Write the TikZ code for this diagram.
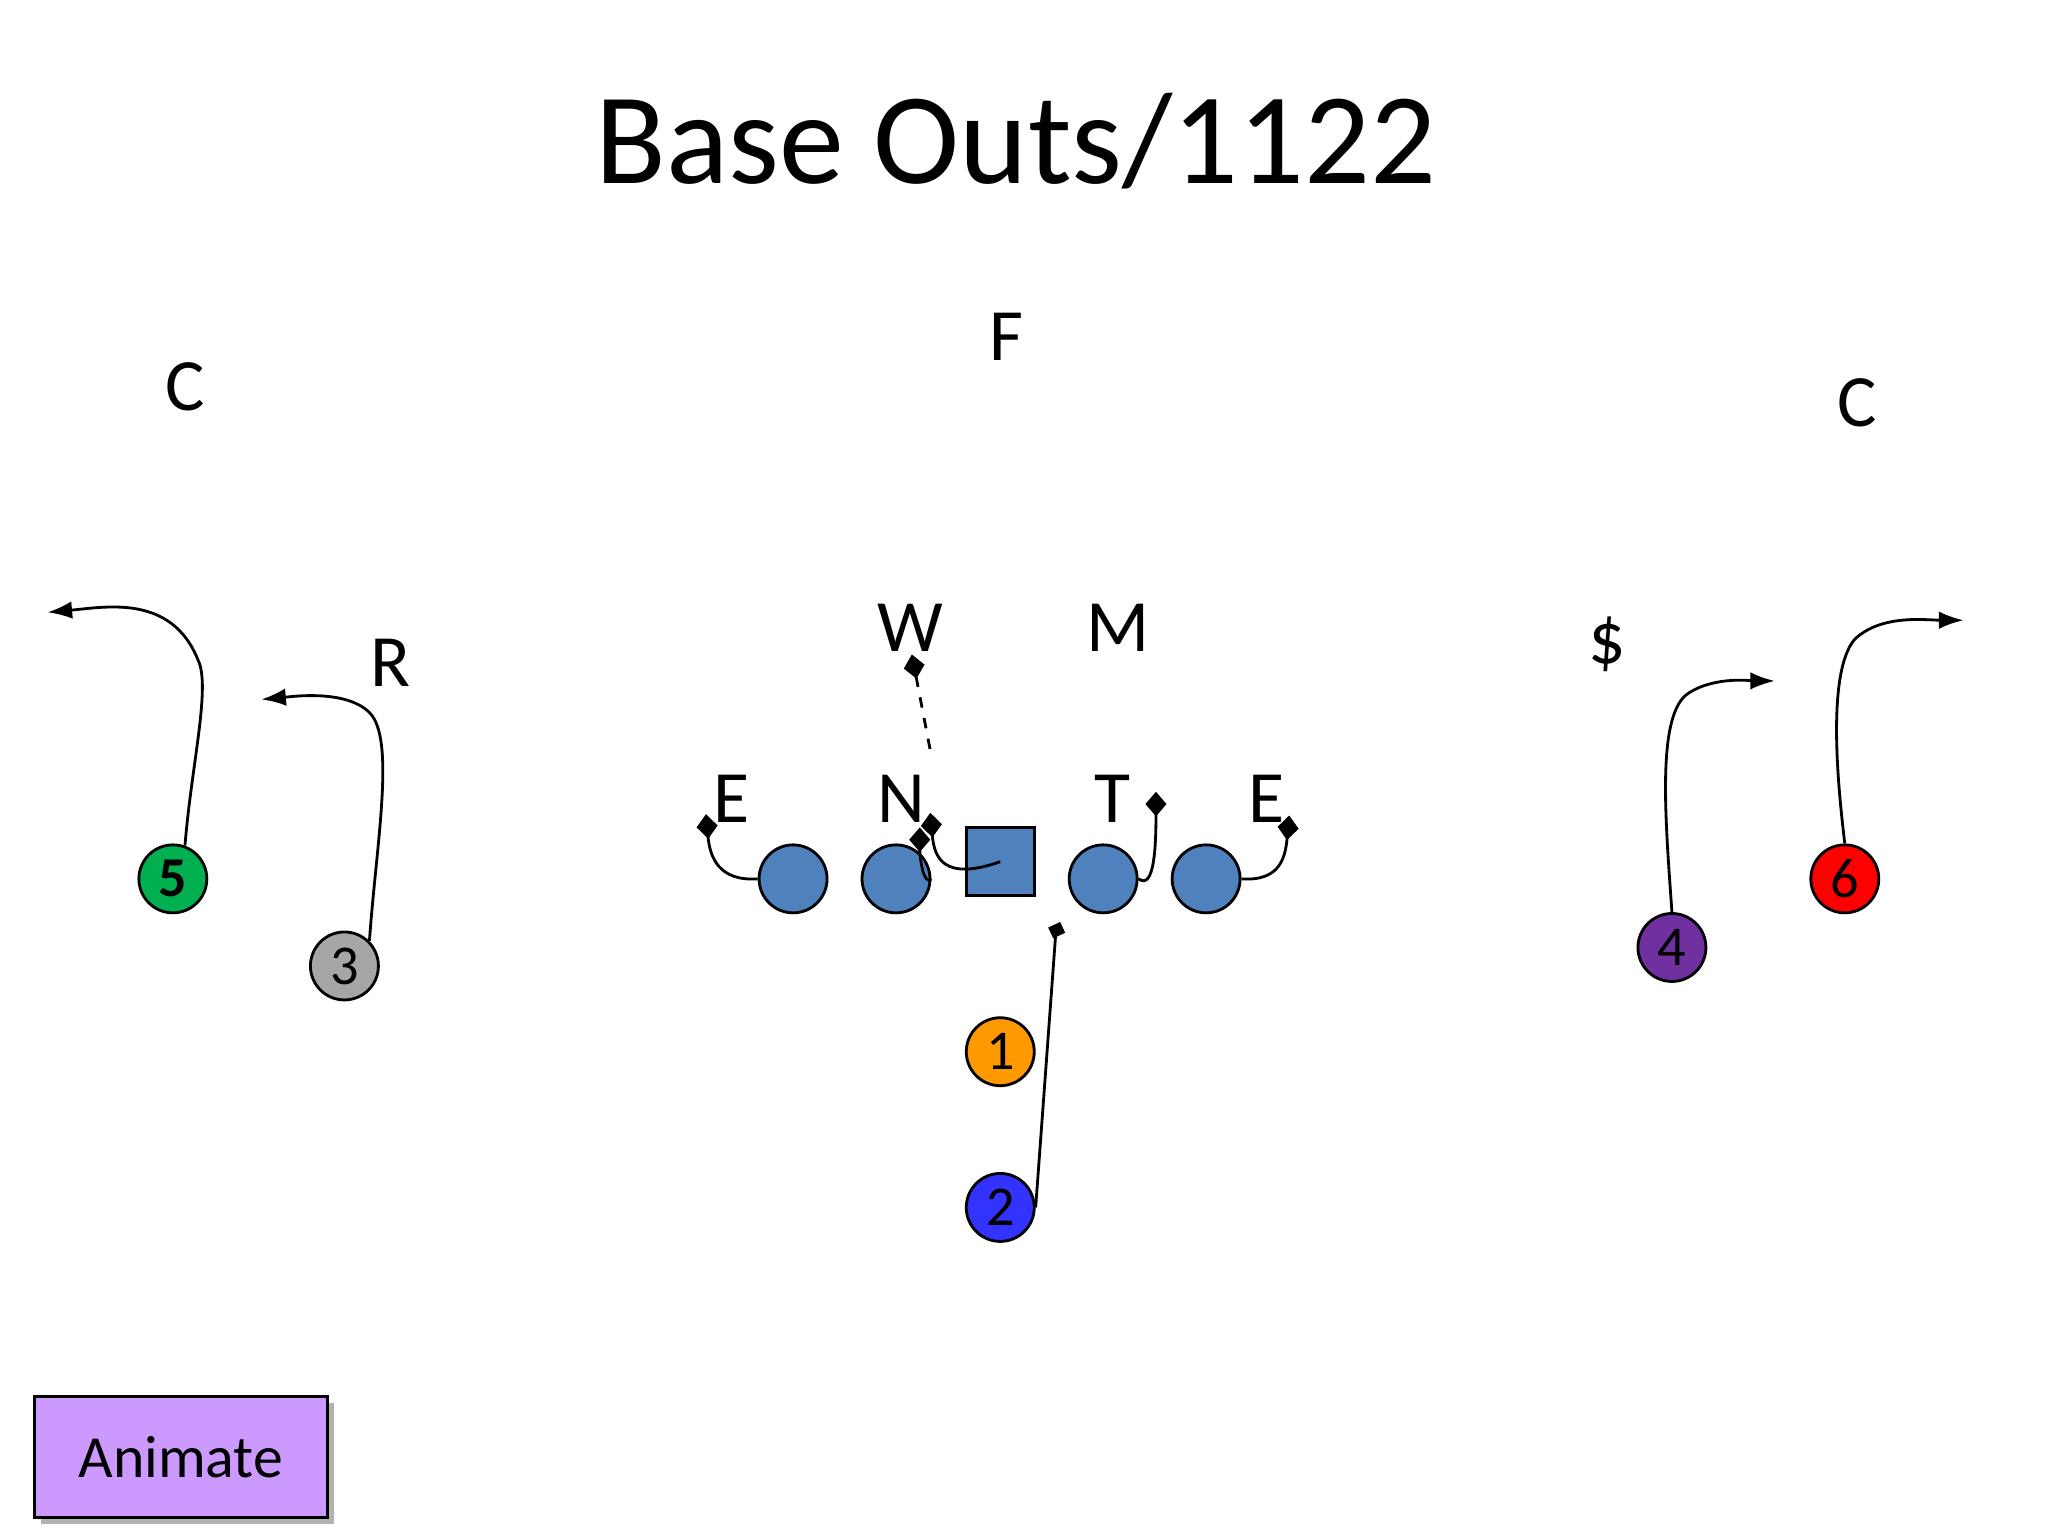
\documentclass[tikz,border=0pt]{standalone}
\usepackage{fontspec}
\setmainfont{Carlito}
\usetikzlibrary{arrows.meta, positioning, calc}
\definecolor{lineblue}{RGB}{79,129,189}
\tikzset{
  player/.style={circle, draw, thick, minimum size=0.68cm, inner sep=0pt, font=\fontsize{16}{16}\selectfont},
  lineman/.style={circle, draw, thick, fill=lineblue, minimum size=0.68cm, inner sep=0pt},
  defender/.style={font=\fontsize{21}{21}\selectfont},
  route/.style={-{Latex[length=7pt,width=5pt]}, thick},
  block/.style={-{Diamond[length=7pt,width=6pt]}, thick}
}
\begin{document}
\begin{tikzpicture}[x=0.0132cm, y=-0.0132cm]
\useasboundingbox (0,0) rectangle (1552,1164);
% title
\node[font=\fontsize{37}{37}\selectfont] (title) at (770,107) {Base Outs/1122};
% defense
\node[defender] (F) at (763,255) {F};
\node[defender] (CL) at (140,293) {C};
\node[defender] (CR) at (1407,305) {C};
\node[defender] (R) at (296,502) {R};
\node[defender] (W) at (690,476) {W};
\node[defender] (M) at (847,476) {M};
\node[defender] (S) at (1218,488) {\$};
\node[defender] (EL) at (554,605) {E};
\node[defender] (N) at (683,605) {N};
\node[defender] (T) at (843,605) {T};
\node[defender] (ER) at (960,605) {E};
% offensive line
\node[lineman] (LT) at (601,666) {};
\node[lineman] (LG) at (679,666) {};
\node[draw, thick, fill=lineblue, minimum size=0.68cm, inner sep=0pt] (Ctr) at (758,653) {};
\node[lineman] (RG) at (836,666) {};
\node[lineman] (RT) at (914,666) {};
% skill players
\node[player, fill={rgb,255:red,0;green,176;blue,80}, font=\fontsize{16}{16}\selectfont\bfseries] (p5) at (131,666) {5};
\node[player, fill={rgb,255:red,166;green,166;blue,166}] (p3) at (261,732) {3};
\node[player, fill={rgb,255:red,255;green,153;blue,0}] (p1) at (758,797) {1};
\node[player, fill={rgb,255:red,51;green,51;blue,255}] (p2) at (758,915) {2};
\node[player, fill={rgb,255:red,112;green,48;blue,160}] (p4) at (1267,718) {4};
\node[player, fill={rgb,255:red,255;green,0;blue,0}] (p6) at (1398,666) {6};
% route ends
\coordinate (r5) at (36,464);
\coordinate (r3) at (198,530);
\coordinate (r4) at (1345,516);
\coordinate (r6) at (1488,470);
\coordinate (r2) at (800,708);
% routes
\draw[route] (p5.70) .. controls (145,580) and (160,520) .. (150,500) .. controls (130,450) and (80,460) .. (r5);
\draw[route] (p3.north east) .. controls (285,640) and (300,560) .. (280,540) .. controls (262,522) and (220,528) .. (r3);
\draw[route] (p4.north) .. controls (1262,620) and (1255,540) .. (1280,525) .. controls (1300,512) and (1330,516) .. (r4);
\draw[route] (p6.north) .. controls (1392,590) and (1385,510) .. (1405,485) .. controls (1425,465) and (1460,470) .. (r6);
\draw[thick] (p2.east) -- (r2);
\fill[rotate around={25:(r2)}] ($(r2)+(-3,-7)$) rectangle ($(r2)+(7,2)$);
% blocks
\draw[block] (LT.west) .. controls (545,668) and (538,650) .. (535,617);
\draw[block] (LG.east) .. controls (700,672) and (697,650) .. (697,627);
\draw[block] (Ctr.center) .. controls (715,668) and (708,650) .. (705,616);
\draw[block] (RG.east) .. controls (875,675) and (876,640) .. (876,600);
\draw[block] (RT.east) .. controls (970,668) and (974,650) .. (977,618);
\draw[dashed, thick, {Diamond[length=7pt,width=6pt]}-] (691,496) -- (706,574);
% button
\fill[gray!60] (31,1063) rectangle (253,1155);
\node[draw, thick, fill={rgb,255:red,204;green,153;blue,255}, minimum width=2.93cm, minimum height=1.21cm, font=\fontsize{17}{17}\selectfont] (animate) at (137,1104) {Animate};
\end{tikzpicture}
\end{document}
